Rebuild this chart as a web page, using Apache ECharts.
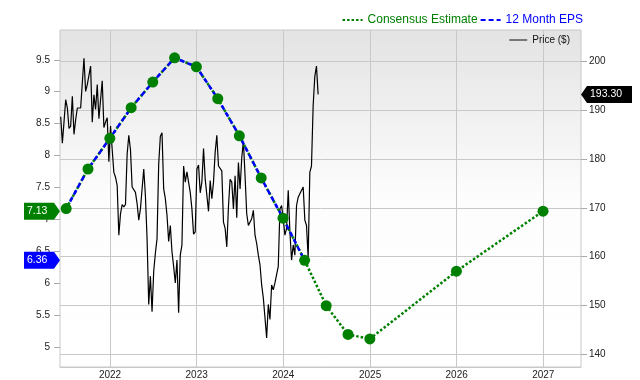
<!DOCTYPE html>
<html><head><meta charset="utf-8">
<script src="https://cdn.jsdelivr.net/npm/echarts@6/dist/echarts.min.js"></script>
<style>html,body{margin:0;padding:0;background:#fff}#c{width:640px;height:380px}</style>
</head><body><div id="c"></div>
<script>
const epsDates = ['2021-06-30','2021-09-30','2021-12-31','2022-03-31','2022-06-30','2022-09-30','2022-12-31','2023-03-31','2023-06-30','2023-09-30','2023-12-31','2024-03-31'];
const epsActual = [7.17, 7.79, 8.27, 8.75, 9.15, 9.53, 9.39, 8.89, 8.31, 7.65, 7.02, 6.36];
const estimateDates = ['2024-06-30','2024-09-30','2024-12-31','2025-12-31','2026-12-31'];
const estimateValues = [5.65, 5.20, 5.13, 6.19, 7.13];
const priceStart = '2021-06-07';
const priceValues = [
188.7,183.3,187.7,192.2,190.5,186.3,186.8,192.9,185.1,188.1,
190.5,190.2,190.5,195.6,200.7,193.9,195.3,194.9,199.1,187.6,
193.2,190.2,195.3,188.3,192.2,196.1,186.5,187.6,188.5,179.5,
186.8,182.0,177.3,176.3,174.6,164.4,168.8,170.7,170.2,170.7,
181.0,184.9,182.0,174.3,173.9,173.2,170.9,167.5,169.8,169.9,
178.0,172.5,163.7,150.2,156.0,148.7,157.0,160.7,163.7,179.0,
184.7,185.4,173.9,171.9,168.5,163.1,166.4,161.0,158.0,154.6,
159.3,148.5,160.3,162.4,178.6,
175.3,177.4,177.6,173.2,169.8,164.6,165.1,178.0,178.8,173.1,
175.3,182.2,175.9,175.6,169.3,175.6,171.9,175.3,181.4,184.9,
178.6,179.0,177.6,167.1,165.8,162.0,170.2,175.9,175.3,169.8,
176.6,168.0,179.3,173.9,180.2,183.7,176.6,168.8,166.4,166.4,
167.8,169.5,164.4,162.7,160.3,158.3,154.2,151.5,147.5,143.3,
150.2,147.1,154.2,153.2,154.6,156.3,158.0,169.8,170.5,167.7,
164.4,165.8,173.6,165.1,159.3,162.4,160.3,170.5,172.2,172.9,
172.5,174.3,167.5,166.4,159.7,177.3,178.6,190.9,197.0,199.1,
193.3];
const yearTicks = [2022, 2023, 2024, 2025, 2026, 2027];
const epsTicks = [5, 5.5, 6, 6.5, 7, 7.5, 8, 8.5, 9, 9.5];
const priceTicks = [140, 150, 160, 170, 180, 190, 200];

const FONT = '"Liberation Sans", Arial, sans-serif';
const GREEN = '#008000', BLUE = '#0000ff';
const DAY = 86400000;
function parseDay(s){ const p = s.split('-').map(Number); return Date.UTC(p[0], p[1]-1, p[2]); }

const priceData = priceValues.map((v, i) => [parseDay(priceStart) + i * 7 * DAY, v]);
const epsData = epsDates.map((d, i) => [parseDay(d), epsActual[i]]);
const consensusData = epsData.concat(estimateDates.map((d, i) => [parseDay(d), estimateValues[i]]));
const xTickVals = yearTicks.map(y => Date.UTC(y, 0, 1));
const xMin = parseDay('2021-06-04'), xMax = parseDay('2027-06-09');

const chart = echarts.init(document.getElementById('c'), null, {renderer: 'canvas'});
const option = {
  animation: false,
  textStyle: {fontFamily: FONT},
  grid: {left: 60, right: 59, top: 30, bottom: 10, show: true, borderColor: '#c8c8c8', borderWidth: 1,
    backgroundColor: {type: 'linear', x: 0, y: 0, x2: 0, y2: 1,
      colorStops: [{offset: 0, color: '#e3e3e3'}, {offset: 0.5, color: '#fdfdfd'}, {offset: 1, color: '#ffffff'}]}},
  legend: [{
    right: 57, top: 14, padding: 0, itemWidth: 20, itemHeight: 12, itemGap: 2,
    itemStyle: {opacity: 0},
    textStyle: {fontSize: 12, fontFamily: FONT},
    data: [{name: 'Consensus Estimate', textStyle: {color: GREEN}}, {name: '12 Month EPS', textStyle: {color: BLUE}}]
  }, {
    right: 70, top: 35, padding: 0, itemWidth: 18, itemHeight: 12,
    itemStyle: {opacity: 0},
    textStyle: {fontSize: 10, color: '#111', fontFamily: FONT},
    lineStyle: {color: '#777', width: 2},
    data: ['Price ($)']
  }],
  xAxis: {
    type: 'value', min: xMin, max: xMax,
    axisLine: {show: true, lineStyle: {color: '#c8c8c8'}},
    axisTick: {show: false, customValues: xTickVals},
    axisLabel: {customValues: xTickVals, formatter: v => String(new Date(v).getUTCFullYear()),
      color: '#222', fontSize: 10, margin: 3, fontFamily: FONT},
    splitLine: {show: true, lineStyle: {color: '#c8c8c8', width: 1}}
  },
  yAxis: [{
    type: 'value', position: 'left', min: 4.69, max: 9.966,
    axisLine: {show: false},
    axisTick: {show: true, length: 6, lineStyle: {color: '#aaa'}, customValues: epsTicks},
    axisLabel: {customValues: epsTicks, color: '#222', fontSize: 10, margin: 10, fontFamily: FONT},
    splitLine: {show: false}
  }, {
    type: 'value', position: 'right', min: 137.36, max: 206.51,
    axisLine: {show: false},
    axisTick: {show: true, length: 6, lineStyle: {color: '#aaa'}, customValues: priceTicks},
    axisLabel: {customValues: priceTicks, color: '#222', fontSize: 10, margin: 8, fontFamily: FONT},
    splitLine: {show: true, lineStyle: {color: '#c8c8c8', width: 1}}
  }],
  series: [{
    name: 'Price ($)', type: 'line', yAxisIndex: 1, data: priceData, symbol: 'none',
    lineStyle: {color: '#000', width: 1.2}, itemStyle: {color: '#777'}, z: 2
  }, {
    name: 'Consensus Estimate', type: 'line', yAxisIndex: 0, data: consensusData, symbol: 'none',
    lineStyle: {color: GREEN, width: 2.5, type: [2.5, 2]}, itemStyle: {color: GREEN}, z: 3
  }, {
    name: '12 Month EPS', type: 'line', yAxisIndex: 0, data: epsData, symbol: 'none',
    lineStyle: {color: BLUE, width: 2.5, type: [5, 3]}, itemStyle: {color: BLUE}, z: 4
  }, {
    type: 'scatter', yAxisIndex: 0, data: consensusData, symbol: 'circle', symbolSize: 11,
    itemStyle: {color: GREEN, opacity: 1}, z: 5, silent: true
  }]
};
chart.setOption(option);

const xL = chart.convertToPixel({xAxisIndex: 0}, xMin);
const xR = chart.convertToPixel({xAxisIndex: 0}, xMax);
const lastEst = estimateValues[estimateValues.length - 1];
const lastAct = epsActual[epsActual.length - 1];
const lastPrice = priceValues[priceValues.length - 1];
const yE = chart.convertToPixel({yAxisIndex: 0}, lastEst);
const yA = chart.convertToPixel({yAxisIndex: 0}, lastAct);
const yP = chart.convertToPixel({yAxisIndex: 1}, lastPrice);
function leftTag(y, color, txt) {
  return [{type: 'polygon', z: 100, shape: {points: [[xL - 36, y - 8.5], [xL - 6, y - 8.5], [xL, y], [xL - 6, y + 8.5], [xL - 36, y + 8.5]]}, style: {fill: color}},
    {type: 'text', z: 101, x: xL - 33, y: y, style: {text: txt, fill: '#fff', font: '10.5px ' + FONT, verticalAlign: 'middle', textVerticalAlign: 'middle'}}];
}
const graphics = [].concat(
  leftTag(yE, GREEN, lastEst.toFixed(2)),
  leftTag(yA, BLUE, lastAct.toFixed(2)),
  [{type: 'polygon', z: 100, shape: {points: [[xR, yP], [xR + 6, yP - 8.5], [xR + 51, yP - 8.5], [xR + 51, yP + 8.5], [xR + 6, yP + 8.5]]}, style: {fill: '#000'}},
   {type: 'text', z: 101, x: xR + 9, y: yP, style: {text: lastPrice.toFixed(2), fill: '#fff', font: '10.5px ' + FONT, verticalAlign: 'middle', textVerticalAlign: 'middle'}}]
);
chart.setOption({graphic: graphics});
</script>
</body></html>
